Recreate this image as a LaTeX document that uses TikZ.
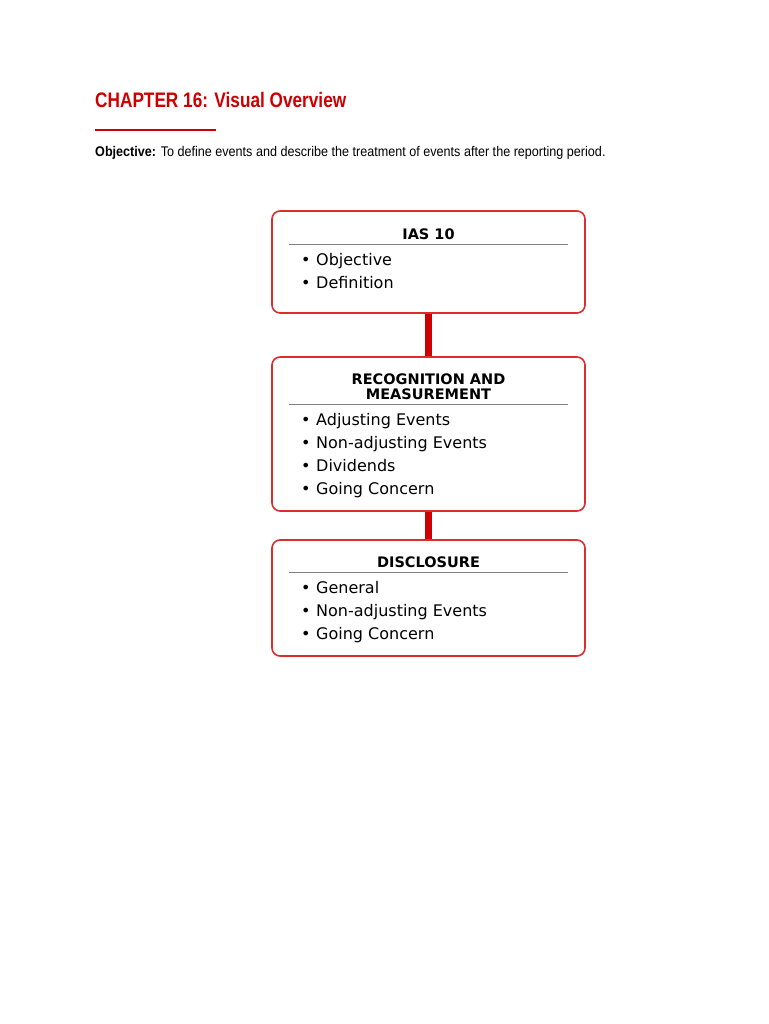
\documentclass[tikz,border=0pt]{standalone}
\usepackage{fontspec}
\setmainfont{DejaVu Sans}
\newfontfamily\arialn[FakeStretch=0.82]{Liberation Sans}
\newfontfamily\arialobj[FakeStretch=0.9]{Liberation Sans}
\usetikzlibrary{positioning}
\definecolor{chapred}{RGB}{204,0,0}
\definecolor{boxred}{RGB}{220,45,45}
\tikzset{
  panel/.style={draw=boxred, line width=1.6pt, rounded corners=8pt,
    fill=white, minimum width=313pt},
  head/.style={font=\bfseries\fontsize{14.5}{15}\selectfont,
    align=center, inner sep=0pt, anchor=base},
  items/.style={font=\fontsize{16}{23}\selectfont, align=left,
    inner sep=0pt, anchor=base west},
  link/.style={draw=chapred, line width=7pt},
  rule/.style={draw=gray, line width=1pt}
}
\newcommand{\itm}[1]{\makebox[15pt][l]{\textbullet}#1}

\begin{document}
\begin{tikzpicture}[x=1pt, y=-1pt]
    \useasboundingbox[fill=white] (0,0) rectangle (768,1024);

    % heading
    \node[font=\arialn\bfseries\fontsize{21}{24}\selectfont, text=chapred,
          anchor=base west, inner sep=0pt] (title) at (95,108)
          {CHAPTER 16: Visual Overview};
    \draw[chapred, line width=2pt] (95,130) -- (216,130);
    \node[font=\arialobj\fontsize{14}{16}\selectfont, anchor=base west,
          inner sep=0pt] (objective) at (95,157)
          {\textbf{Objective:} To define events and describe the treatment of events after the reporting period.};

    % boxes
    \node[panel, minimum height=102pt] (ias) at (428.5,262) {};
    \node[panel, minimum height=154pt] (recog) at (428.5,434) {};
    \node[panel, minimum height=116pt] (discl) at (428.5,598) {};

    \draw[link] (ias) -- (recog);
    \draw[link] (recog) -- (discl);

    % IAS 10 (base = last line)
    \node[head] (iashead) at (428.5,240) {IAS 10};
    \draw[rule] (289,244) -- (568,244);
    \node[items] (iaslist) at (301,288) {\itm{Objective}\\ \itm{Definition}};

    % recognition and measurement
    \node[head] (recoghead) at (428.5,399) {RECOGNITION AND\\ MEASUREMENT};
    \draw[rule] (289,404) -- (568,404);
    \node[items] (recoglist) at (301,494)
          {\itm{Adjusting Events}\\ \itm{Non-adjusting Events}\\
           \itm{Dividends}\\ \itm{Going Concern}};

    % disclosure
    \node[head] (disclhead) at (428.5,567) {DISCLOSURE};
    \draw[rule] (289,572) -- (568,572);
    \node[items] (discllist) at (301,639)
          {\itm{General}\\ \itm{Non-adjusting Events}\\ \itm{Going Concern}};
\end{tikzpicture}
\end{document}
